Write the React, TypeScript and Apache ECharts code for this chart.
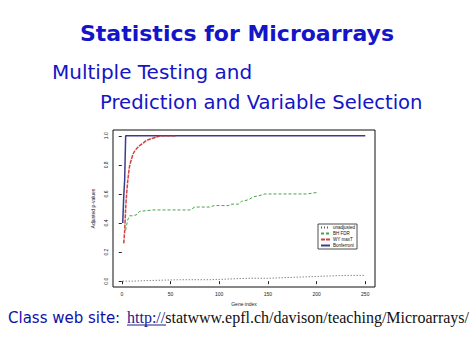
import React, { useEffect, useRef } from "react";
import * as echarts from "echarts";

const xTicks = [0, 50, 100, 150, 200, 250];
const yTicks = [0, 0.2, 0.4, 0.6, 0.8, 1.0];
const seriesNames = ["unadjusted", "BH FDR", "WY maxT", "Bonferroni"];

const rawP: [number, number][] = [
  [1, 0.0], [10, 0.0], [30, 0.005], [60, 0.01], [90, 0.01], [110, 0.015], [130, 0.02],
  [150, 0.02], [170, 0.025], [190, 0.03], [210, 0.035], [230, 0.04], [250, 0.04],
];
const bhFdr: [number, number][] = [
  [4, 0.35], [6, 0.42], [8, 0.45], [12, 0.45], [16, 0.46], [18, 0.48], [32, 0.49],
  [70, 0.49], [75, 0.51], [90, 0.51], [95, 0.52], [110, 0.52], [112, 0.53], [120, 0.53],
  [123, 0.55], [130, 0.56], [135, 0.58], [142, 0.59], [147, 0.6], [160, 0.6], [190, 0.6],
  [200, 0.61],
];
const wyMaxT: [number, number][] = [
  [2, 0.26], [3, 0.35], [4, 0.5], [5, 0.6], [6, 0.68], [7, 0.74], [8, 0.79], [10, 0.84],
  [12, 0.88], [15, 0.91], [18, 0.93], [22, 0.95], [26, 0.97], [30, 0.98], [35, 0.99],
  [40, 1.0], [55, 1.0],
];
const bonferroni: [number, number][] = [
  [1, 0.4], [2, 0.58], [3, 0.7], [4, 1.0], [250, 1.0],
];

export default function App() {
  const ref = useRef<HTMLDivElement>(null);
  useEffect(() => {
    document.body.style.margin = "0";
    const chart = echarts.init(ref.current!, null, { renderer: "svg" });
    const blue = "#1414c8";
    chart.setOption({
      animation: false,
      backgroundColor: "#ffffff",
      grid: {
        left: 113, top: 130, width: 262, height: 157, show: true,
        borderColor: "#111", borderWidth: 1, backgroundColor: "transparent",
      },
      xAxis: {
        type: "value", min: -9, max: 260, offset: 2,
        name: "Gene index", nameLocation: "middle", nameGap: 12,
        nameTextStyle: { fontSize: 5, color: "#222" },
        axisLine: { show: false },
        axisTick: { show: true, length: 3, customValues: xTicks, lineStyle: { color: "#222" } },
        axisLabel: { customValues: xTicks, fontSize: 5, color: "#222", margin: 2 },
        splitLine: { show: false },
      },
      yAxis: {
        type: "value", min: -0.04, max: 1.04, offset: 2,
        name: "Adjusted p-values", nameLocation: "middle", nameGap: 14,
        nameTextStyle: { fontSize: 5, color: "#222" },
        axisLine: { show: false },
        axisTick: { show: true, length: 3, customValues: yTicks, lineStyle: { color: "#222" } },
        axisLabel: {
          customValues: yTicks, fontSize: 5, color: "#222", margin: 3, rotate: 90,
          align: "center", verticalAlign: "bottom",
          formatter: (v: number) => v.toFixed(1),
        },
        splitLine: { show: false },
      },
      legend: {
        orient: "vertical", left: 318, top: 224, itemGap: 1, itemWidth: 9, itemHeight: 5,
        padding: [1, 2], borderColor: "#222", borderWidth: 0.8, backgroundColor: "#fff",
        itemStyle: { opacity: 0 },
        textStyle: { fontSize: 4.5, color: "#111", padding: [0, 0, 0, -2] },
        data: seriesNames,
      },
      series: [
        {
          name: seriesNames[0], type: "line", data: rawP, symbol: "none",
          lineStyle: { color: "#555", width: 1, type: [1, 2] }, itemStyle: { color: "#555" },
        },
        {
          name: seriesNames[1], type: "line", data: bhFdr, symbol: "none",
          lineStyle: { color: "#4aa44a", width: 1, type: [3, 2] }, itemStyle: { color: "#4aa44a" },
        },
        {
          name: seriesNames[3], type: "line", data: bonferroni, symbol: "none",
          lineStyle: { color: "#3c3c8c", width: 1.5 }, itemStyle: { color: "#3c3c8c" },
        },
        {
          name: seriesNames[2], type: "line", data: wyMaxT, symbol: "none", smooth: 0.3,
          lineStyle: { color: "#cc2020", width: 1.5, type: [4, 1], opacity: 0.85 },
          itemStyle: { color: "#cc2020" },
        },
      ],
      graphic: [
        {
          type: "text", left: "center", top: 22,
          style: { text: "Statistics for Microarrays", fontSize: 22, fontWeight: "bold", fill: blue, fontFamily: "DejaVu Sans" },
        },
        {
          type: "text", left: 52, top: 62,
          style: { text: "Multiple Testing and", fontSize: 20, fill: blue, fontFamily: "DejaVu Sans" },
        },
        {
          type: "text", left: 100, top: 92,
          style: { text: "Prediction and Variable Selection", fontSize: 19.6, fill: blue, fontFamily: "DejaVu Sans" },
        },
        {
          type: "text", left: 8, top: 310,
          style: { text: "Class web site:", fontSize: 15, fill: "#1010a8", fontFamily: "DejaVu Sans" },
        },
        {
          type: "text", left: 127, top: 309,
          style: {
            text: "{a|http://}{b|statwww.epfl.ch/davison/teaching/Microarrays/}",
            fontFamily: "Liberation Serif", fontSize: 16, lineHeight: 16,
            rich: {
              a: { fontSize: 16, lineHeight: 16, fill: "#1a1a90", fontFamily: "Liberation Serif" },
              b: { fontSize: 16, lineHeight: 16, fill: "#111", fontFamily: "Liberation Serif" },
            },
          },
        },
        {
          type: "line", shape: { x1: 127, y1: 325, x2: 166, y2: 325 },
          style: { stroke: "#1a1a90", lineWidth: 1 },
        },
      ],
    });
    return () => chart.dispose();
  }, []);
  return <div ref={ref} style={{ width: 474, height: 355 }} />;
}
